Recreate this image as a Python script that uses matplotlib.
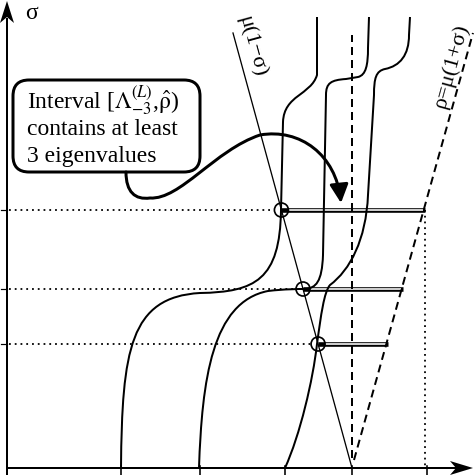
import numpy as np
import matplotlib
matplotlib.use("Agg")
import matplotlib.pyplot as plt
from matplotlib.path import Path
from matplotlib.patches import PathPatch, FancyBboxPatch, Circle, Polygon, FancyArrowPatch

plt.rcParams['mathtext.fontset'] = 'stix'
SERIF = ['Liberation Serif', 'DejaVu Serif']

# ---------------- data (diagram coordinates, pixel-like units) ----------------
x_axis_y = 468
y_axis_x = 7
x_tick_positions = [121, 200, 285, 352, 427]
sigma_levels = [210, 289, 344]            # sigma values of the three intersections
mu_line = [(233, 33), (352, 468)]         # rho = mu(1 - sigma)
rho_line = [(354, 468), (473, 33)]        # rho = mu(1 + sigma)
mu_vertical_x = 352
mu_vertical_top = 35
axis_label = 'σ'
mu_label = 'μ(1−σ)'
rho_label = 'ρ=μ(1+σ)'

# eigenvalue curves: cubic-Bezier control points
curve_A = [('M', (121, 468)), ('C', (122, 350), (130, 297), (200, 293)),
           ('C', (255, 292), (280, 280), (281, 210)),
           ('L', (283, 122)), ('C', (284, 95), (311, 95), (317, 75)),
           ('L', (317, 17))]
curve_B = [('M', (199, 468)), ('C', (202, 380), (212, 302), (268, 291)),
           ('C', (285, 289), (298, 289), (305, 289)),
           ('C', (316, 288), (322, 282), (323, 255)),
           ('L', (326, 95)), ('C', (326, 83), (331, 80), (346, 79)),
           ('L', (358, 77)), ('C', (366, 75), (368, 65), (368, 48)),
           ('L', (369, 17))]
curve_C = [('M', (285, 468)), ('C', (300, 435), (313, 380), (317, 344)),
           ('C', (321, 315), (324, 292), (330, 285)),
           ('C', (350, 270), (366, 240), (368, 195)),
           ('L', (374, 95)), ('C', (374, 78), (376, 71), (385, 69)),
           ('C', (400, 66), (409, 55), (409, 35)), ('L', (410, 17))]
callout_tail = [('M', (126, 172)), ('C', (126, 192), (135, 200), (150, 198)),
                ('C', (180, 200), (215, 150), (260, 135)),
                ('C', (300, 128), (336, 155), (341, 203))]
box_lines = [r'Interval [$\Lambda^{(L)}_{-3}$,$\hat{\mathrm{\rho}}$)', 'contains at least', '3 eigenvalues']
box_rect = (13, 80, 187, 92)

# ---------------- drawing ----------------
fig = plt.figure(figsize=(4.74, 4.75), dpi=100)
ax = fig.add_axes([0, 0, 1, 1])
ax.set_xlim(0, 474)
ax.set_ylim(475, 0)
ax.axis('off')

PX = 0.72  # points per pixel
DOT = (0, (1, 2.2))


def make_path(spec):
    verts, codes = [], []
    for item in spec:
        kind = item[0]
        if kind == 'M':
            verts.append(item[1]); codes.append(Path.MOVETO)
        elif kind == 'L':
            verts.append(item[1]); codes.append(Path.LINETO)
        elif kind == 'C':
            verts.extend(item[1:4]); codes.extend([Path.CURVE4] * 3)
    return Path(verts, codes)


def line_x(line, y):
    (x0, y0), (x1, y1) = line
    return x0 + (y - y0) * (x1 - x0) / (y1 - y0)


# axes
ax.plot([y_axis_x, y_axis_x], [x_axis_y + 7, 18], color='black', lw=2 * PX, solid_capstyle='butt')
ax.plot([y_axis_x, 460], [x_axis_y, x_axis_y], color='black', lw=2 * PX, solid_capstyle='butt')
ax.add_patch(Polygon([(y_axis_x, 1), (y_axis_x - 7, 23), (y_axis_x, 17), (y_axis_x + 7, 23)],
                     closed=True, color='black', lw=0))
ax.add_patch(Polygon([(473, x_axis_y), (450, x_axis_y - 7), (456, x_axis_y), (450, x_axis_y + 7)],
                     closed=True, color='black', lw=0))
ax.text(25, 19, axis_label, fontsize=17, family=SERIF, ha='left', va='baseline')

for xt in x_tick_positions:
    ax.plot([xt, xt], [x_axis_y - 2, 476], color='black', lw=1.6 * PX)
for s in sigma_levels:
    ax.plot([1, y_axis_x], [s, s], color='black', lw=1.2 * PX)

# dashed lines
ax.plot([mu_vertical_x, mu_vertical_x], [x_axis_y - 10, mu_vertical_top], color='black',
        lw=2 * PX, linestyle=(0, (8 / 2, 5 / 2)), zorder=3)
ax.plot([rho_line[0][0], rho_line[1][0]], [rho_line[0][1] - 8, rho_line[1][1]], color='black',
        lw=2 * PX, linestyle=(0, (8 / 2, 5 / 2)), zorder=3)
ax.text(451, 66, rho_label, fontsize=16, family=SERIF, rotation=74.7,
        ha='center', va='center', rotation_mode='anchor')

# mu(1-sigma) line
ax.plot([mu_line[0][0], mu_line[1][0]], [mu_line[0][1], mu_line[1][1]], color='black',
        lw=1.3 * PX, zorder=3)
ax.text(252, 46, mu_label, fontsize=16, family=SERIF, rotation=-74.7,
        ha='center', va='center', rotation_mode='anchor')

# intersections, dotted guides and rails
r = 7
for i, s in enumerate(sigma_levels):
    cx = line_x(mu_line, s)
    ex = line_x(rho_line, s)
    ax.plot([y_axis_x + 2, cx - r], [s, s], color='black', lw=1.8 * PX,
            linestyle=DOT, zorder=2)
    ax.plot([cx, ex], [s, s], color='black', lw=4.6 * PX, solid_capstyle='butt', zorder=2)
    ax.plot([cx + r, ex - 1.6], [s, s], color='white', lw=1.6 * PX, solid_capstyle='butt', zorder=2.1)
    ax.add_patch(Circle((cx, s), r, fill=False, ec='black', lw=1.7 * PX, zorder=4))
    if i == 0:
        ax.plot([ex, ex], [s, x_axis_y], color='black', lw=1.8 * PX,
                linestyle=DOT, zorder=2)

# eigenvalue curves
for spec in (curve_A, curve_B, curve_C):
    ax.add_patch(PathPatch(make_path(spec), fill=False, ec='black', lw=2 * PX, zorder=3,
                           capstyle='butt'))

# callout
bx, by, bw, bh = box_rect
ax.add_patch(FancyBboxPatch((bx, by), bw, bh, boxstyle='round,pad=0,rounding_size=16',
                            fc='white', ec='black', lw=3 * PX, zorder=5))
ax.add_patch(FancyArrowPatch(path=make_path(callout_tail), arrowstyle='-|>,head_length=0.7,head_width=0.35',
                             mutation_scale=16, color='black', lw=3 * PX, zorder=5))
for k, txt in enumerate(box_lines):
    ax.text(bx + 14, 108 + 27 * k, txt, fontsize=17, family=SERIF, ha='left', va='baseline', zorder=6)

fig.savefig('out.png', dpi=100)
